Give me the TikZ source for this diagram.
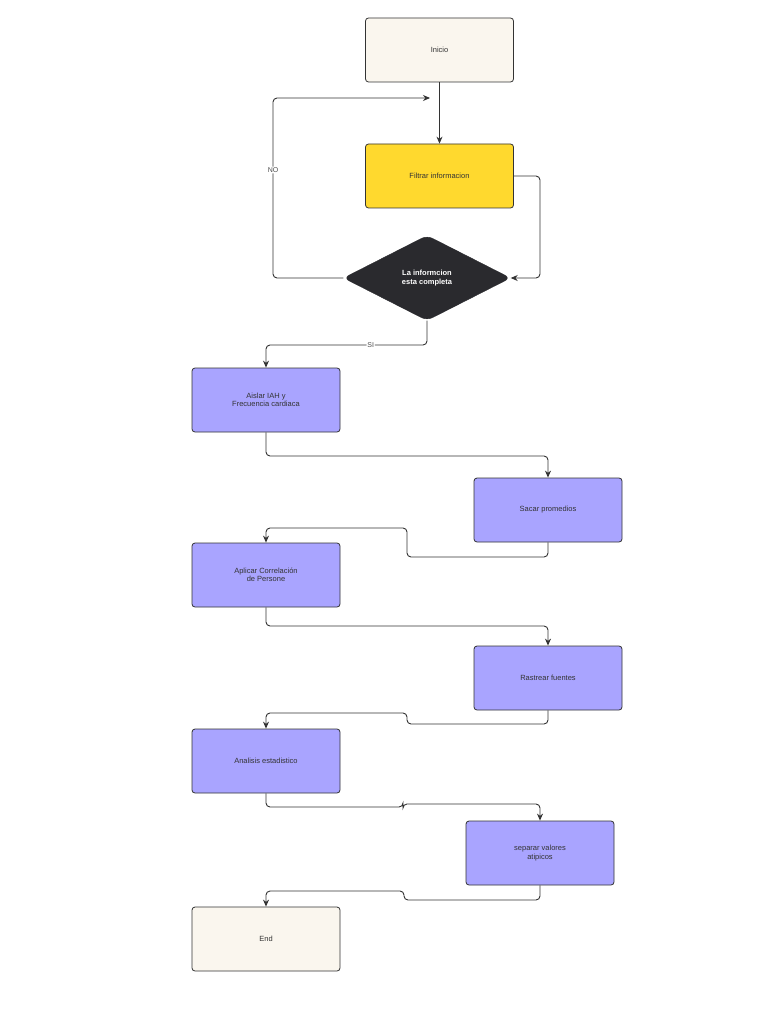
\documentclass[tikz,border=0pt]{standalone}
\usepackage{fontspec}
\setmainfont{Liberation Sans}
\usetikzlibrary{shapes.geometric,arrows.meta}
\definecolor{cream}{HTML}{FAF6EE}
\definecolor{purp}{HTML}{A9A4FF}
\definecolor{yel}{HTML}{FFD92E}
\definecolor{dark}{HTML}{2A2A2E}
\begin{document}
\begin{tikzpicture}[x=1pt,y=-1pt,
  box/.style={draw=black!80,line width=0.8pt,rounded corners=3pt,minimum width=148pt,minimum height=64pt,align=center,font=\fontsize{7.5}{8.5}\selectfont,text=black!80},
  arr/.style={draw=black!80,line width=0.9pt,rounded corners=4pt,-{Stealth[length=7pt,width=6pt]}},
  lab/.style={fill=white,font=\fontsize{7}{8}\selectfont,text=black!70,inner sep=1pt}]
\useasboundingbox (0,0) rectangle (768,1024);
\fill[white] (0,0) rectangle (768,1024);
\node[box,fill=cream] (ini) at (439.5,50) {Inicio};
\node[box,fill=yel] (fil) at (439.5,176) {Filtrar informacion};
\node[diamond,fill=dark,draw=dark,minimum width=167pt,minimum height=85pt,inner sep=0pt,rounded corners=6pt,align=center,text=white,font=\bfseries\fontsize{7.5}{8.5}\selectfont] (dia) at (427,278) {La informcion\\esta completa};
\node[box,fill=purp] (ais) at (266,400) {Aislar IAH y\\Frecuencia cardiaca};
\node[box,fill=purp] (sac) at (548,510) {Sacar promedios};
\node[box,fill=purp] (apl) at (266,575) {Aplicar Correlación\\de Persone};
\node[box,fill=purp] (ras) at (548,678) {Rastrear fuentes};
\node[box,fill=purp] (ana) at (266,761) {Analisis estadistico};
\node[box,fill=purp] (sep) at (540,853) {separar valores\\atipicos};
\node[box,fill=cream] (end) at (266,939) {End};
\coordinate (noend) at (430,98);
\draw[arr] (ini.south) -- (fil.north);
\draw[arr] (fil.east) -- (540,176) -- (540,278) -- (dia.east);
\draw[arr] (dia.west) -- (273,278) -- node[lab,pos=0.6]{NO} (273,98) -- (noend);
\draw[arr] (dia.south) -- (427,345) -- node[lab,pos=0.35]{SI} (266,345) -- (ais.north);
\draw[arr] (ais.south) -- (266,456) -- (548,456) -- (sac.north);
\draw[arr] (sac.south) -- (548,557) -- (407,557) -- (407,528) -- (266,528) -- (apl.north);
\draw[arr] (apl.south) -- (266,626) -- (548,626) -- (ras.north);
\draw[arr] (ras.south) -- (548,724) -- (407,724) -- (407,713) -- (266,713) -- (ana.north);
\draw[arr] (ana.south) -- (266,807) -- (403,807) -- (403,804) -- (540,804) -- (sep.north);
\draw[arr] (sep.south) -- (540,900) -- (404,900) -- (404,891) -- (266,891) -- (end.north);
\end{tikzpicture}
\end{document}
